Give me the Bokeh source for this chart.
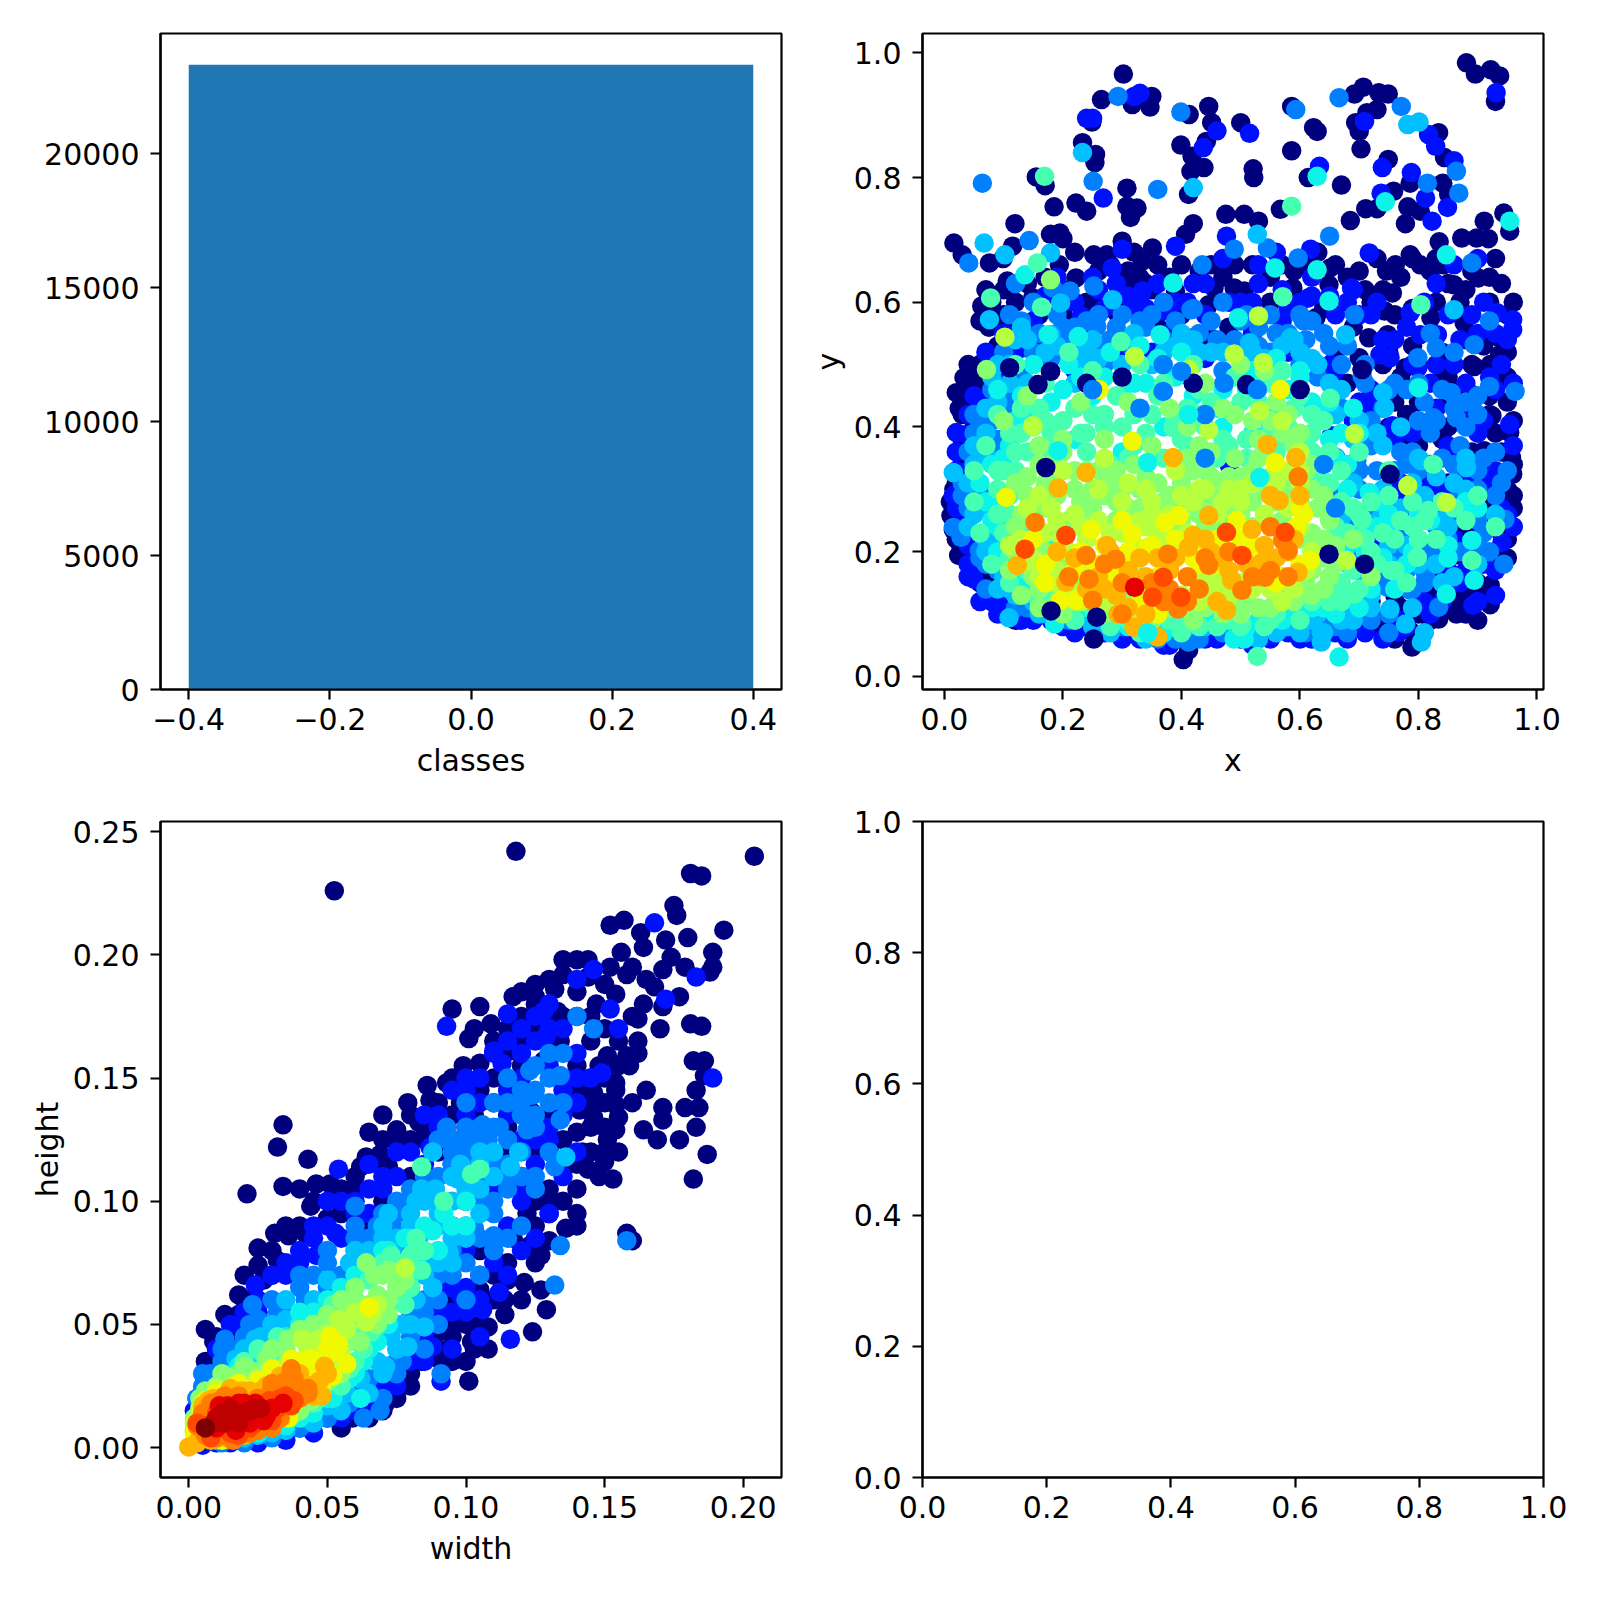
from bokeh.embed import file_html
from bokeh.layouts import gridplot
from bokeh.models import FixedTicker, Range1d
from bokeh.plotting import figure
from bokeh.resources import INLINE

bar_x = [0.0]
bar_width = [0.8]
bar_top = [23333]

ticks_bar_x = [-0.4, -0.2, 0.0, 0.2, 0.4]
labels_bar_x = ["\u22120.4", "\u22120.2", "0.0", "0.2", "0.4"]
ticks_bar_y = [0, 5000, 10000, 15000, 20000]
labels_bar_y = ["0", "5000", "10000", "15000", "20000"]
ticks_unit = [0.0, 0.2, 0.4, 0.6, 0.8, 1.0]
labels_unit = ["0.0", "0.2", "0.4", "0.6", "0.8", "1.0"]
ticks_w = [0.0, 0.05, 0.10, 0.15, 0.20]
labels_w = ["0.00", "0.05", "0.10", "0.15", "0.20"]
ticks_h = [0.0, 0.05, 0.10, 0.15, 0.20, 0.25]
labels_h = ["0.00", "0.05", "0.10", "0.15", "0.20", "0.25"]

NAVY = "#00007f"; BLUE = "#0010ff"; AZURE = "#0080ff"; SKY = "#00c0ff"; CYAN = "#0cf4ea"
SPRING = "#46ffb0"; LIME = "#86ff70"; YG = "#b8ff3e"; YELLOW = "#f0f900"; AMBER = "#ffb400"
ORANGE = "#ff7e00"; REDOR = "#ff4a00"; RED = "#e60000"; DRED = "#bf0000"; DARK = "#7f0000"

xy_navy = [(.016,.695),(.03,.676),(.076,.663),(.099,.67),(.119,.726),(.115,.69),(.179,.709),(.195,.711),(.2,.702),(.185,.753),(.222,.759),(.24,.746),(.155,.801),(.17,.787),(.255,.837),(.254,.824),(.233,.856),(.249,.889),(.265,.925),(.302,.966),(.317,.917),(.347,.913),(.35,.93),(.308,.783),(.308,.754),(.325,.751),(.314,.736),(.413,.901),(.446,.914),(.451,.888),(.442,.858),(.399,.852),(.418,.834),(.416,.81),(.438,.816),(.412,.773),(.5,.888),(.521,.814),(.522,.8),(.586,.914),(.586,.843),(.623,.88),(.629,.874),(.614,.8),(.67,.788),(.692,.934),(.707,.945),(.733,.936),(.749,.934),(.73,.909),(.713,.904),(.694,.888),(.7,.874),(.703,.846),(.749,.829),(.758,.778),(.786,.791),(.834,.872),(.844,.832),(.841,.791),(.851,.773),(.881,.984),(.896,.966),(.922,.973),(.937,.963),(.93,.922),(.475,.741),(.506,.741),(.53,.73),(.567,.749),(.42,.726),(.407,.709),(.685,.731),(.711,.75),(.73,.75),(.782,.753),(.778,.726),(.803,.746),(.944,.743),(.954,.714),(.918,.702),(.898,.703),(.873,.703),(.911,.73),(.835,.697),
(.921,.5),(.894,.497),(.877,.567),(.933,.545),(.748,.548),(.743,.586),(.756,.615),(.716,.543),(.7,.511),(.821,.575),(.86,.628),(.901,.639),(.627,.575),(.651,.655),(.649,.628),(.746,.65),(.761,.66),(.786,.676),(.803,.66),(.842,.66),(.308,.628),(.291,.583),(.334,.666),(.274,.676),(.252,.676),(.3,.698),(.351,.687),(.33,.639),(.106,.634),(.222,.639),(.194,.66),(.149,.607),(.063,.594),(.089,.564),(.14,.527),(.235,.532),(.317,.543),(.394,.532),(.42,.543),(.446,.545),(.446,.596),(.455,.623),(.489,.623),(.506,.618),(.588,.623),(.39,.618),(.705,.492),(.179,.489),(.033,.479),(.02,.455),(.11,.495),(.158,.468),(.51,.468),(.937,.516),(.89,.452),(.778,.495),
(.403,.027),(.097,.135),(.129,.122),(.412,.042),(.789,.047),(.73,.079),(.687,.079),(.834,.092),(.864,.1),(.921,.115),(.921,.146),(.844,.162),(.866,.195),(.91,.191),(.861,.234),(.918,.274),(.928,.292),(.959,.324),(.957,.351),(.884,.348),(.782,.378),(.804,.292),(.636,.42),(.896,.324),(.924,.418),(.954,.391),(.911,.362),(.016,.3),(.011,.258),(.028,.207),(.024,.194),(.825,.21),
(.035,.45),(.025,.43),(.03,.26),(.015,.235),(.04,.47),(.07,.62),(.075,.56),(.05,.4),(.09,.48),(.13,.46),(.2,.58),(.25,.6),(.36,.56),(.4,.58),(.48,.56),(.55,.6),(.6,.53),(.66,.52),(.68,.47),(.74,.5),(.76,.44),(.8,.44),(.85,.48),(.88,.54),(.92,.45),(.95,.44),(.96,.29),(.94,.23),(.95,.19),(.88,.13),(.9,.09),(.8,.1),(.76,.13),(.72,.12),(.82,.16),(.85,.4),(.87,.31),(.78,.25),(.06,.5),(.24,.47),(.3,.48),(.42,.47),(.6,.46),(.03,.34),(.03,.38),(.07,.16),(.12,.09)]
xy_navy2 = [(.28,.66),(.32,.68),(.36,.66),(.38,.64),(.43,.65),(.47,.64),(.52,.66),(.55,.64),(.59,.65),(.63,.68),(.68,.64),(.71,.62),(.74,.62),(.77,.64),(.82,.65),(.85,.63),(.88,.62),(.92,.64),(.94,.63),(.96,.6),(.12,.6),(.16,.58),(.2,.62),(.24,.6),(.29,.6),(.34,.63),(.75,.52),(.79,.53),(.84,.52),(.87,.46),(.91,.53),(.95,.52),(.96,.41),(.93,.39),(.89,.36),(.86,.34),(.84,.38),(.8,.37),(.78,.42),(.94,.36),(.95,.3),(.91,.28),(.88,.22),(.91,.25),(.95,.22),(.93,.2),(.9,.15),(.86,.14),(.83,.13),(.8,.13),(.77,.11),(.74,.09),(.7,.08),(.79,.07),(.84,.11),(.88,.1),(.01,.28),(.02,.31),(.02,.26),(.02,.22),(.04,.19),(.05,.17),(.06,.15),(.08,.14),(.1,.11),(.05,.44),(.07,.47),(.05,.48),(.03,.42),(.06,.57),(.08,.6),(.1,.58),(.12,.56),(.09,.53),(.13,.53)]
xy_navy3 = [(.22,.68),(.26,.65),(.31,.65),(.35,.62),(.4,.66),(.45,.66),(.49,.66),(.57,.66),(.61,.66),(.66,.66),(.7,.65),(.73,.67),(.79,.67),(.83,.67),(.89,.65),(.93,.67),(.95,.58),(.92,.6),(.87,.6),(.83,.6),(.79,.59),(.76,.58),(.72,.6),(.69,.56),(.64,.59),(.1,.62),(.14,.63),(.17,.64),(.04,.5),(.08,.58),(.8,.5),(.77,.48),(.84,.49),(.89,.5),(.95,.48),(.92,.42),(.88,.42),(.85,.44),(.81,.4),(.75,.4),(.96,.34),(.93,.27),(.89,.32),(.85,.31),(.82,.27),(.96,.27),(.9,.24),(.84,.16),(.87,.12),(.91,.13),(.82,.09),(.76,.06),(.72,.09)]
xy_blue = [(.33,.935),(.32,.93),(.25,.895),(.24,.895),(.46,.875),(.437,.848),(.515,.871),(.633,.818),(.739,.816),(.788,.808),(.737,.775),(.812,.767),(.849,.752),(.823,.73),(.817,.869),(.829,.85),(.86,.827),(.709,.89),(.268,.767),(.931,.936),(.717,.679),(.687,.623),(.786,.583),(.334,.618),(.3,.685),(.283,.655),(.476,.706),(.39,.69),(.618,.685),(.369,.586),(.317,.591),(.231,.578),(.614,.607),(.803,.548),(.832,.548),(.933,.583),(.959,.572),(.959,.556),(.735,.516),(.752,.511),(.651,.5),(.799,.495),(.472,.47),(.528,.46),(.369,.457),(.11,.452),(.02,.391),(.037,.388),(.05,.156),(.093,.114),(.015,.29),(.686,.095),(.767,.071),(.562,.092),(.892,.114),(.941,.215),(.877,.314),(.481,.338),(.653,.386),(.756,.402),(.954,.404),(.855,.367),(.7,.418),(.722,.375),
(.26,.62),(.34,.59),(.42,.63),(.47,.67),(.53,.66),(.56,.68),(.62,.64),(.66,.58),(.72,.58),(.83,.63),(.86,.66),(.9,.67),(.91,.6),(.86,.5),(.92,.48),(.96,.47),(.82,.47),(.72,.46),(.66,.45),(.05,.45),(.07,.52),(.1,.55),(.15,.57),(.18,.54),(.25,.56),(.3,.52),(.38,.55),(.44,.51),(.52,.55),(.57,.57),(.04,.21),(.06,.12),(.1,.1),(.18,.09),(.24,.08),(.3,.06),(.38,.05),(.44,.06),(.5,.06),(.58,.07),(.66,.07),(.74,.06),(.78,.08),(.84,.12),(.88,.17),(.93,.17),(.95,.26),(.93,.33),(.9,.39),(.82,.34),(.76,.28),(.73,.22),(.02,.33)]
xy_blue2 = [(.17,.61),(.22,.6),(.27,.59),(.31,.61),(.36,.63),(.41,.6),(.44,.63),(.5,.6),(.53,.63),(.58,.59),(.62,.61),(.68,.6),(.7,.58),(.74,.54),(.78,.56),(.81,.6),(.85,.58),(.89,.58),(.93,.55),(.94,.5),(.91,.41),(.88,.47),(.83,.43),(.79,.39),(.77,.31),(.84,.3),(.92,.31),(.96,.37),(.96,.24),(.93,.13),(.89,.16),(.85,.17),(.81,.12),(.77,.09),(.71,.07),(.62,.06),(.55,.06),(.41,.06),(.33,.06),(.22,.07),(.15,.09),(.08,.12),(.04,.16),(.03,.24),(.02,.36),(.04,.33),(.06,.4),(.08,.44),(.1,.47),(.12,.52),(.16,.53),(.22,.49),(.35,.52),(.5,.53),(.58,.52),(.66,.49),(.7,.44),(.69,.41),(.74,.44),(.8,.29),(.86,.22),(.9,.12)]
xy_blue3 = [(.19,.64),(.25,.64),(.29,.63),(.33,.6),(.39,.6),(.44,.58),(.48,.6),(.52,.6),(.57,.62),(.6,.6),(.65,.61),(.69,.62),(.73,.6),(.76,.54),(.79,.5),(.83,.5),(.87,.54),(.9,.55),(.95,.54),(.93,.46),(.89,.43),(.85,.37),(.82,.31),(.78,.29),(.76,.38),(.72,.43),(.94,.27),(.91,.18),(.87,.15),(.82,.1),(.68,.06),(.06,.44),(.04,.42),(.03,.27),(.02,.27),(.04,.18),(.09,.1),(.13,.09),(.2,.08),(.27,.07),(.37,.05),(.46,.06),(.52,.05),(.6,.06)]
xy_azure = [(.064,.791),(.041,.663),(.143,.699),(.293,.93),(.399,.905),(.593,.909),(.666,.928),(.771,.914),(.36,.781),(.251,.794),(.864,.81),(.815,.791),(.868,.775),(.435,.66),(.489,.685),(.545,.687),(.597,.671),(.65,.706),(.89,.663),(.692,.58),(.183,.623),(.212,.618),(.252,.626),(.416,.588),(.606,.57),(.799,.511),(.83,.527),(.894,.532),(.705,.481),(.4,.489),(.369,.5),(.855,.455),(.963,.457),(.92,.465),(.257,.561),(.084,.37),(.08,.234),(.944,.18),(.946,.252),(.834,.111),(.786,.138),(.812,.164),(.748,.143),(.864,.415),(.825,.415),(.661,.351),(.696,.346),(.565,.074),(.412,.055),(.028,.223),(.015,.239),(.059,.202),
(.13,.57),(.21,.54),(.28,.54),(.34,.56),(.46,.54),(.5,.57),(.56,.55),(.6,.5),(.63,.48),(.67,.43),(.72,.41),(.76,.47),(.8,.41),(.86,.43),(.88,.4),(.91,.35),(.93,.29),(.87,.26),(.8,.22),(.77,.19),(.73,.17),(.84,.2),(.9,.21),(.92,.2),(.75,.1),(.7,.1),(.64,.09),(.52,.07),(.47,.07),(.36,.06),(.27,.09),(.14,.11),(.07,.18),(.04,.27),(.04,.36),(.05,.42),(.08,.46),(.1,.52),(.27,.5),(.47,.49),(.55,.52),(.06,.3),(.78,.34),(.82,.39),(.73,.33),(.7,.3)]
xy_azure2 = [(.11,.58),(.16,.55),(.19,.58),(.24,.57),(.3,.58),(.33,.57),(.37,.6),(.42,.59),(.47,.6),(.51,.58),(.55,.58),(.6,.58),(.64,.55),(.67,.5),(.71,.5),(.74,.43),(.77,.36),(.81,.44),(.84,.46),(.87,.37),(.9,.33),(.94,.31),(.9,.45),(.86,.52),(.82,.55),(.92,.57),(.78,.46),(.8,.33),(.87,.2),(.83,.24),(.79,.14),(.75,.07),(.68,.07),(.61,.07),(.56,.09),(.43,.06),(.33,.08),(.23,.1),(.17,.1),(.12,.11),(.07,.14),(.03,.29),(.03,.31),(.06,.38),(.07,.41),(.09,.38),(.11,.43),(.13,.48),(.18,.51),(.22,.56),(.26,.52),(.32,.52),(.37,.54),(.43,.55),(.49,.54),(.53,.53),(.61,.54),(.7,.33),(.68,.25),(.66,.29),(.7,.2),(.74,.15),(.77,.23),(.8,.27),(.86,.34),(.91,.23)]
xy_azure3 = [(.12,.63),(.15,.6),(.2,.56),(.26,.58),(.29,.56),(.35,.58),(.39,.57),(.45,.57),(.53,.56),(.58,.55),(.62,.57),(.65,.53),(.68,.53),(.71,.47),(.75,.46),(.8,.47),(.83,.41),(.88,.44),(.9,.42),(.93,.36),(.9,.3),(.87,.29),(.84,.35),(.79,.36),(.76,.33),(.72,.37),(.72,.26),(.78,.17),(.82,.2),(.85,.22),(.9,.25),(.95,.33),(.81,.15),(.72,.09),(.66,.08),(.59,.09),(.5,.07),(.39,.06),(.3,.08),(.21,.09),(.13,.12),(.09,.17),(.06,.19),(.04,.3),(.05,.39),(.08,.41),(.1,.45),(.15,.52),(.19,.55)]
xy_sky = [(.233,.84),(.067,.695),(.102,.676),(.179,.679),(.782,.885),(.801,.889),(.42,.784),(.528,.709),(.86,.588),(.677,.548),(.74,.455),(.584,.543),(.284,.604),(.196,.599),(.076,.572),(.179,.548),(.515,.535),(.109,.094),(.636,.055),(.636,.071),(.778,.084),(.805,.055),(.649,.119),(.015,.327),(.653,.26),(.67,.255),(.752,.239),(.735,.252),(.752,.108),(.881,.335),(.743,.431),(.804,.346),
(.12,.54),(.24,.53),(.32,.55),(.4,.55),(.45,.52),(.54,.51),(.6,.52),(.63,.5),(.66,.42),(.69,.38),(.74,.37),(.79,.31),(.83,.32),(.88,.3),(.93,.26),(.85,.24),(.8,.18),(.77,.16),(.72,.11),(.68,.11),(.63,.1),(.58,.08),(.44,.08),(.3,.09),(.2,.11),(.1,.16),(.07,.22),(.05,.26),(.06,.35),(.07,.43),(.09,.5)]
xy_sky2 = [(.14,.54),(.17,.52),(.23,.51),(.3,.5),(.35,.5),(.39,.53),(.43,.52),(.5,.51),(.57,.53),(.65,.47),(.69,.31),(.74,.3),(.77,.27),(.81,.29),(.85,.27),(.88,.35),(.75,.18),(.72,.13),(.71,.24),(.83,.18),(.86,.16),(.9,.18),(.84,.15),(.81,.07),(.69,.09),(.62,.09),(.67,.09),(.6,.07),(.53,.06),(.49,.07),(.41,.08),(.28,.07),(.24,.1),(.16,.1),(.12,.13),(.09,.14),(.07,.2),(.04,.24),(.04,.31),(.05,.37),(.07,.39),(.09,.44),(.11,.47),(.14,.47),(.22,.47),(.26,.51)]
xy_sky3 = [(.13,.56),(.19,.53),(.25,.54),(.31,.54),(.37,.52),(.42,.54),(.47,.52),(.52,.52),(.59,.54),(.62,.51),(.67,.46),(.7,.41),(.73,.39),(.77,.4),(.8,.35),(.86,.31),(.89,.28),(.84,.25),(.78,.21),(.75,.21),(.71,.16),(.79,.11),(.68,.13),(.64,.07),(.56,.07),(.34,.06),(.25,.08),(.15,.12),(.11,.14),(.08,.22),(.06,.27),(.05,.34),(.07,.36),(.08,.48),(.11,.5)]
xy_cyan = [(.136,.644),(.629,.652),(.649,.602),(.558,.655),(.386,.631),(.744,.761),(.847,.676),(.629,.802),(.226,.545),(.175,.548),(.364,.548),(.496,.575),(.8,.463),(.954,.73),(.186,.084),(.425,.084),(.347,.068),(.489,.06),(.506,.06),(.666,.031),(.894,.154),(.179,.204),(.717,.295),(.89,.218),(.847,.132),
(.09,.46),(.11,.37),(.06,.31),(.08,.25),(.09,.2),(.12,.16),(.2,.12),(.26,.1),(.39,.08),(.43,.1),(.53,.09),(.6,.11),(.65,.14),(.68,.18),(.7,.23),(.75,.26),(.79,.2),(.85,.19),(.9,.27),(.68,.34),(.65,.38),(.62,.44),(.6,.49),(.52,.49),(.4,.52),(.33,.53),(.28,.52),(.21,.5),(.15,.5)]
xy_cyan2 = [(.1,.24),(.1,.28),(.08,.34),(.12,.41),(.15,.42),(.2,.46),(.25,.45),(.27,.48),(.32,.47),(.36,.51),(.42,.45),(.47,.46),(.56,.51),(.6,.48),(.65,.44),(.69,.43),(.66,.35),(.68,.3),(.73,.24),(.71,.2),(.74,.19),(.76,.14),(.7,.11),(.66,.1),(.62,.11),(.57,.09),(.51,.08),(.47,.1),(.37,.07),(.31,.08),(.24,.11),(.18,.11),(.14,.14),(.1,.19),(.22,.38),(.3,.36),(.37,.4),(.47,.4),(.53,.47),(.58,.46)]
xy_cyan3 = [(.13,.45),(.18,.44),(.23,.48),(.3,.45),(.34,.47),(.39,.48),(.46,.43),(.51,.46),(.56,.42),(.55,.4),(.52,.39),(.63,.43),(.67,.39),(.7,.39),(.73,.28),(.75,.24),(.78,.18),(.68,.21),(.72,.14),(.64,.11),(.58,.1),(.45,.09),(.41,.1),(.35,.08),(.27,.11),(.22,.1),(.13,.15),(.09,.24),(.07,.28),(.1,.35),(.88,.28),(.85,.21),(.82,.25),(.8,.26)]
xy_spring = [(.169,.802),(.586,.754),(.157,.663),(.078,.607),(.164,.592),(.298,.537),(.804,.596),(.651,.446),(.571,.609),(.528,.032),(.502,.084),(.692,.132),(.754,.17),(.798,.191),(.817,.266),(.89,.186),(.705,.252),(.705,.223),(.334,.159),(.825,.34),(.661,.231),(.239,.39),(.386,.399),(.311,.351),(.422,.353),
(.12,.5),(.17,.47),(.21,.52),(.25,.49),(.29,.45),(.33,.5),(.37,.47),(.42,.5),(.45,.44),(.49,.48),(.53,.44),(.57,.49),(.6,.45),(.64,.41),(.09,.42),(.13,.39),(.07,.37),(.05,.33),(.09,.3),(.12,.33),(.16,.43),(.2,.41),(.25,.42),(.3,.4),(.35,.42),(.4,.38),(.44,.4),(.48,.37),(.54,.37),(.58,.4),(.62,.36),(.65,.31),(.67,.28),(.66,.2),(.69,.17),(.72,.2),(.72,.28),(.76,.22),(.78,.15),(.81,.25),(.84,.28),(.88,.25),(.9,.29),(.93,.24),(.75,.33),(.7,.36),(.05,.28),(.06,.23),(.08,.18),(.11,.15),(.16,.12),(.22,.09),(.28,.08),(.33,.07),(.4,.07),(.46,.08),(.54,.08),(.6,.09),(.63,.13),(.67,.12),(.7,.14)]
xy_spring2 = [(.11,.29),(.1,.33),(.11,.39),(.14,.36),(.18,.39),(.22,.43),(.27,.42),(.32,.42),(.36,.45),(.41,.43),(.43,.46),(.5,.44),(.55,.47),(.59,.43),(.62,.39),(.63,.32),(.66,.24),(.69,.27),(.74,.23),(.75,.29),(.79,.24),(.83,.22),(.86,.27),(.79,.28),(.7,.26),(.67,.15),(.65,.12),(.6,.13),(.55,.09),(.5,.08),(.43,.08),(.38,.09),(.33,.09),(.29,.1),(.24,.12),(.19,.13),(.14,.17),(.12,.18),(.1,.23),(.14,.23),(.18,.36),(.24,.36),(.28,.34),(.32,.37),(.37,.35),(.41,.37),(.46,.35),(.51,.35),(.56,.36),(.6,.34)]
xy_spring3 = [(.13,.43),(.17,.41),(.23,.39),(.27,.4),(.34,.39),(.39,.41),(.43,.42),(.47,.38),(.51,.38),(.55,.39),(.57,.38),(.62,.42),(.61,.38),(.65,.36),(.67,.33),(.68,.23),(.71,.22),(.73,.18),(.76,.17),(.66,.14),(.62,.12),(.56,.1),(.48,.09),(.4,.09),(.31,.09),(.25,.11),(.21,.11),(.16,.13),(.11,.19),(.09,.26),(.11,.26),(.09,.33),(.12,.36),(.77,.25),(.8,.22)]
xy_lime = [(.071,.492),(.179,.636),(.1,.41),(.14,.45),(.16,.37),(.2,.36),(.23,.44),(.27,.38),(.31,.44),(.35,.37),(.38,.43),(.43,.37),(.47,.43),(.52,.41),(.56,.44),(.59,.37),(.61,.33),(.14,.32),(.18,.32),(.22,.3),(.26,.33),(.3,.3),(.34,.32),(.38,.29),(.42,.33),(.46,.3),(.5,.32),(.54,.3),(.58,.3),(.63,.27),(.64,.22),(.13,.26),(.17,.27),(.21,.25),(.25,.27),(.29,.25),(.33,.27),(.38,.24),(.43,.26),(.46,.24),(.5,.26),(.57,.25),(.62,.17),(.65,.16),(.12,.2),(.16,.21),(.2,.18),(.25,.13),(.3,.12),(.35,.09),(.42,.09),(.46,.12),(.5,.1),(.55,.11),(.59,.12),(.62,.13),(.16,.14),(.2,.1),(.27,.1),(.11,.17),(.13,.13),(.69,.22),(.72,.16),(.44,.47),(.5,.5),(.54,.49),(.3,.48),(.26,.46)]
xy_lime2 = [(.14,.29),(.12,.31),(.16,.34),(.19,.29),(.2,.38),(.24,.33),(.28,.31),(.32,.34),(.36,.31),(.4,.31),(.44,.33),(.48,.32),(.52,.33),(.56,.33),(.6,.28),(.62,.23),(.62,.3),(.56,.28),(.52,.28),(.48,.26),(.44,.28),(.4,.27),(.36,.26),(.31,.27),(.27,.29),(.23,.28),(.19,.23),(.15,.25),(.14,.2),(.18,.15),(.22,.16),(.26,.15),(.3,.14),(.34,.12),(.38,.11),(.44,.11),(.48,.12),(.53,.11),(.58,.14),(.61,.15),(.64,.19),(.66,.18),(.17,.2),(.22,.12),(.28,.13),(.16,.11),(.41,.4),(.45,.36),(.49,.42),(.53,.35),(.58,.42)]
xy_lime3 = [(.15,.4),(.18,.34),(.22,.33),(.25,.3),(.29,.33),(.33,.3),(.37,.28),(.41,.35),(.45,.32),(.49,.35),(.53,.38),(.55,.41),(.57,.39),(.6,.39),(.62,.34),(.64,.29),(.65,.25),(.66,.21),(.64,.14),(.6,.16),(.56,.12),(.51,.12),(.47,.1),(.41,.11),(.36,.11),(.31,.13),(.27,.16),(.23,.18),(.19,.12),(.15,.16),(.12,.24),(.15,.28),(.17,.31),(.24,.25),(.29,.28),(.35,.24),(.4,.25),(.44,.24),(.52,.24),(.6,.22)]
xy_yg = [(.102,.544),(.53,.578),(.321,.513),(.489,.517),(.538,.503),(.413,.492),(.532,.426),(.782,.306),(.692,.389),(.446,.395),(.149,.402),(.847,.279),(.679,.186),(.152,.183),(.2,.33),(.27,.35),(.31,.31),(.35,.28),(.39,.33),(.43,.3),(.47,.28),(.5,.3),(.55,.32),(.6,.31),(.24,.22),(.29,.19),(.34,.24),(.38,.2),(.42,.16),(.47,.15),(.52,.14),(.57,.12),(.62,.2),(.21,.14),(.25,.17),(.11,.21),(.16,.16),(.27,.12),(.32,.1),(.57,.41),(.6,.36)]
xy_yg2 = [(.18,.27),(.16,.29),(.22,.26),(.26,.3),(.3,.28),(.34,.3),(.38,.26),(.42,.28),(.46,.26),(.5,.28),(.54,.26),(.58,.27),(.6,.24),(.61,.17),(.57,.16),(.52,.17),(.48,.13),(.43,.12),(.37,.13),(.33,.14),(.28,.16),(.24,.14),(.19,.17),(.15,.19),(.13,.22),(.2,.22),(.28,.23),(.32,.21),(.36,.22),(.41,.23),(.45,.16),(.5,.15),(.55,.14),(.23,.12),(.3,.11)]
xy_yg3 = [(.19,.25),(.23,.24),(.26,.25),(.3,.23),(.33,.25),(.37,.24),(.4,.29),(.44,.3),(.48,.3),(.52,.31),(.56,.31),(.58,.33),(.6,.33),(.17,.23),(.21,.2),(.35,.26),(.55,.16),(.59,.14),(.45,.14),(.4,.13),(.34,.13),(.13,.18),(.19,.15),(.14,.27)]
xy_yellow = [(.261,.46),(.567,.46),(.104,.287),(.317,.377),(.558,.343),(.248,.235),(.317,.228),(.373,.247),(.463,.18),(.443,.212),(.606,.26),(.593,.239),(.493,.25),(.396,.258),(.317,.162),(.571,.159),(.343,.207),(.196,.122),(.222,.122),(.618,.186),(.3,.25),(.42,.19),(.5,.22),(.26,.18),(.23,.2)]
xy_yellow2 = [(.15,.22),(.17,.18),(.19,.2),(.22,.17),(.24,.19),(.27,.21),(.29,.16),(.31,.2),(.35,.21),(.36,.16),(.39,.22),(.43,.18),(.46,.22),(.48,.2),(.52,.21),(.55,.19),(.57,.22),(.6,.18),(.56,.15),(.52,.18),(.33,.12),(.24,.13),(.17,.15),(.36,.1),(.6,.27)]
xy_amber = [(.192,.302),(.239,.327),(.386,.351),(.593,.351),(.545,.372),(.565,.282),(.446,.258),(.519,.236),(.42,.226),(.274,.21),(.205,.151),(.123,.178),(.485,.154),(.536,.183),(.597,.167),(.476,.106),(.32,.079),(.36,.063),(.293,.1),(.412,.207),(.38,.17),(.45,.2),(.54,.21),(.27,.14),(.33,.19),(.48,.17),(.58,.2)]
xy_amber2 = [(.19,.2),(.22,.19),(.26,.16),(.28,.2),(.31,.17),(.34,.16),(.36,.19),(.39,.19),(.44,.22),(.47,.19),(.51,.18),(.53,.16),(.56,.19),(.59,.22),(.31,.11),(.34,.1),(.38,.12),(.46,.12),(.24,.14),(.29,.13),(.55,.29),(.6,.29)]
xy_orange = [(.153,.247),(.597,.32),(.571,.218),(.58,.202),(.289,.188),(.244,.156),(.25,.122),(.369,.132),(.394,.108),(.541,.159),(.502,.138),(.446,.178),(.239,.194),(.377,.196),(.43,.14),(.41,.12)]
xy_orange2 = [(.21,.16),(.27,.18),(.3,.15),(.35,.15),(.38,.14),(.37,.12),(.41,.16),(.44,.19),(.48,.2),(.52,.16),(.55,.17),(.58,.16),(.55,.24),(.3,.1)]
xy_redor = [(.136,.204),(.205,.226),(.351,.127),(.399,.127),(.502,.194),(.575,.231),(.369,.159),(.476,.231)]
xy_red = [(.321,.143)]
xy_over_navy = [(.171,.335),(.649,.196),(.709,.18),(.752,.324),(.252,.06),(.18,.105),(.257,.095),(.179,.489),(.11,.495),(.51,.468),(.705,.492),(.158,.468),(.24,.47),(.42,.47),(.6,.46),(.3,.48)]
xy_over_azure = [(.44,.35),(.64,.34),(.66,.27),(.472,.47),(.528,.46),(.369,.457),(.4,.489),(.369,.5),(.44,.42),(.33,.43),(.25,.46)]
xy_over_cyan = [(.532,.319),(.343,.343),(.192,.362),(.412,.42),(.343,.07)]

wh_navy = [(.0525,.226),(.118,.242),(.204,.24),(.181,.233),(.185,.232),(.175,.22),(.157,.214),(.152,.212),(.193,.21),(.176,.216),(.163,.209),(.18,.207),(.156,.201),(.189,.201),(.189,.195),(.188,.193),(.135,.198),(.14,.198),(.144,.198),(.152,.195),(.158,.192),(.125,.188),(.135,.192),(.144,.191),(.154,.184),(.117,.183),(.125,.183),(.132,.186),(.147,.18),(.164,.18),(.171,.179),(.177,.183),(.168,.187),(.171,.194),(.174,.199),(.179,.195),(.172,.206),(.164,.203),(.095,.178),(.105,.179),(.133,.177),(.121,.174),(.109,.172),(.103,.17),(.101,.166),(.162,.174),(.162,.165),(.162,.16),(.181,.172),(.185,.171),(.12,.166),(.134,.165),(.116,.161),(.151,.159),(.158,.159),(.159,.155),(.182,.157),(.186,.157),(.186,.151),(.099,.155),(.105,.156),(.128,.157),(.093,.148),(.086,.147),(.101,.147),(.145,.15),(.154,.148),(.154,.145),(.146,.144),(.165,.145),(.183,.145),(.079,.14),(.087,.141),(.098,.14),(.154,.139),(.171,.138),(.179,.138),(.184,.138),(.07,.135),(.103,.135),(.083,.132),(.141,.137),(.146,.134),(.155,.134),(.171,.133),(.183,.13),(.034,.131),(.032,.122),(.065,.128),(.075,.129),(.164,.129),(.169,.125),(.154,.129),(.151,.125),(.177,.125),(.074,.125),(.079,.124),(.043,.117),(.187,.119),(.182,.109),(.064,.118),(.069,.119),(.062,.114),(.15,.116),(.144,.113),(.153,.109),(.072,.114),(.021,.103),(.034,.106),(.046,.107),(.051,.107),(.135,.113),(.14,.128),(.142,.12),(.107,.105),(.105,.125),(.13,.121),(.124,.136),(.116,.141),
(.044,.098),(.05,.093),(.062,.09),(.031,.087),(.036,.086),(.042,.087),(.025,.081),(.032,.076),(.025,.074),(.027,.068),(.018,.062),(.013,.054),(.018,.054),(.006,.048),(.009,.043),(.01,.04),(.006,.035),(.158,.087),(.16,.084),(.122,.095),(.13,.095),(.14,.095),(.136,.089),(.13,.084),(.117,.085),(.123,.082),(.127,.078),(.121,.067),(.127,.064),(.129,.056),(.124,.047),(.101,.027),(.103,.04),(.102,.043),(.114,.054),(.114,.06),(.108,.049),(.095,.045),(.09,.047),(.094,.058),(.105,.064),(.115,.068),(.09,.036),(.084,.035),(.076,.025),(.071,.018),(.059,.012),
(.055,.095),(.07,.1),(.08,.11),(.09,.12),(.08,.135),(.09,.14),(.1,.13),(.11,.14),(.12,.155),(.13,.135),(.14,.145),(.145,.12),(.125,.1),(.1,.1),(.115,.12),(.11,.11),(.13,.105),(.14,.105),(.15,.13),(.135,.175),(.145,.165),(.15,.17),(.12,.185),(.13,.19),(.095,.09),(.1,.06),(.1,.05),(.085,.05),(.09,.04),(.08,.03),(.07,.022),(.105,.08),(.11,.07)]
wh_navy2 = [(.02,.07),(.03,.08),(.04,.09),(.045,.1),(.055,.105),(.06,.11),(.07,.125),(.08,.125),(.085,.13),(.095,.135),(.105,.145),(.11,.15),(.115,.17),(.12,.175),(.125,.17),(.13,.165),(.14,.155),(.145,.14),(.14,.115),(.135,.1),(.125,.09),(.115,.075),(.11,.06),(.105,.05),(.095,.05),(.085,.04),(.08,.025),(.07,.015),(.065,.012),(.055,.008),(.15,.15),(.148,.155),(.155,.165),(.165,.19),(.16,.195),(.15,.188),(.14,.185),(.16,.175),(.17,.17),(.155,.12),(.16,.14)]
wh_navy3 = [(.095,.15),(.11,.165),(.125,.18),(.13,.175),(.14,.175),(.145,.175),(.155,.155),(.15,.14),(.15,.12),(.148,.11),(.14,.09),(.125,.075),(.12,.06),(.108,.04),(.1,.035),(.095,.035),(.075,.02),(.065,.02),(.08,.05),(.06,.105),(.07,.115),(.085,.125),(.1,.14),(.035,.09),(.04,.105),(.03,.07),(.02,.06),(.015,.045),(.01,.045),(.095,.125),(.105,.12),(.12,.11),(.13,.1),(.135,.125),(.145,.13),(.125,.12),(.115,.13)]
wh_blue = [(.093,.171),(.168,.213),(.115,.176),(.183,.191),(.172,.182),(.155,.17),(.129,.167),(.11,.161),(.189,.15),(.054,.113),(.149,.152),(.087,.122),(.095,.123),(.14,.19),(.146,.194),(.152,.178),(.128,.177),(.113,.156),(.116,.044),(.091,.027),(.106,.056),(.112,.063),(.098,.062),(.092,.065),(.046,.078),(.024,.066),(.053,.087),(.088,.041),
(.03,.07),(.04,.08),(.05,.09),(.06,.1),(.07,.11),(.08,.12),(.09,.13),(.1,.15),(.11,.16),(.12,.17),(.13,.18),(.14,.16),(.135,.135),(.125,.115),(.12,.1),(.11,.08),(.105,.07),(.1,.055),(.09,.05),(.08,.04),(.07,.03),(.06,.02),(.05,.012),(.04,.008),(.03,.005),(.02,.003),(.01,.002),(.005,.012),(.002,.015),(.01,.04),(.015,.05),(.02,.055),(.045,.09),(.05,.1),(.065,.105),(.075,.08)]
wh_blue2 = [(.015,.04),(.02,.05),(.025,.06),(.035,.07),(.04,.075),(.045,.085),(.055,.085),(.06,.095),(.065,.095),(.07,.105),(.075,.11),(.085,.115),(.09,.125),(.095,.145),(.1,.145),(.105,.15),(.115,.165),(.12,.16),(.125,.175),(.13,.17),(.135,.17),(.14,.15),(.145,.15),(.13,.125),(.125,.125),(.12,.105),(.115,.09),(.11,.075),(.105,.06),(.1,.065),(.095,.055),(.085,.045),(.08,.035),(.075,.025),(.065,.015),(.055,.012),(.045,.006),(.035,.003),(.025,.002),(.015,.002),(.005,.001),(.003,.02),(.007,.03)]
wh_blue3 = [(.055,.1),(.065,.115),(.075,.12),(.085,.135),(.09,.135),(.1,.135),(.105,.14),(.115,.145),(.12,.15),(.13,.13),(.14,.14),(.135,.15),(.14,.12),(.135,.11),(.13,.095),(.125,.085),(.12,.08),(.115,.07),(.105,.045),(.095,.04),(.09,.055),(.085,.035),(.07,.025),(.06,.015),(.035,.075),(.025,.055),(.01,.03),(.115,.135),(.125,.165),(.13,.155),(.135,.145),(.12,.125),(.11,.105),(.1,.08),(.095,.065)]
wh_azure = [(.132,.066),(.063,.012),(.069,.015),(.072,.033),(.077,.035),(.091,.03),(.134,.082),(.11,.086),(.103,.089),(.074,.089),(.06,.098),(.023,.058),(.005,.03),(.013,.044),(.158,.084),(.14,.175),(.146,.17),(.123,.153),(.134,.151),(.124,.143),(.106,.131),(.112,.13),(.093,.13),(.122,.129),(.134,.133),(.095,.115),(.109,.12),(.125,.11),(.132,.114),
(.01,.025),(.012,.035),(.02,.045),(.025,.052),(.03,.06),(.04,.065),(.045,.07),(.05,.075),(.06,.08),(.065,.085),(.07,.095),(.08,.1),(.09,.11),(.1,.12),(.11,.13),(.12,.14),(.13,.15),(.135,.16),(.125,.13),(.115,.115),(.105,.1),(.1,.09),(.095,.08),(.09,.07),(.085,.06),(.08,.055),(.12,.11),(.13,.12),(.11,.1),(.135,.14),(.115,.15),(.1,.14),(.09,.125)]
wh_azure2 = [(.008,.03),(.018,.04),(.028,.05),(.035,.055),(.042,.06),(.05,.065),(.055,.07),(.06,.085),(.068,.09),(.075,.095),(.085,.105),(.095,.115),(.1,.125),(.105,.13),(.115,.125),(.12,.135),(.125,.145),(.13,.14),(.13,.16),(.125,.155),(.12,.12),(.115,.105),(.11,.095),(.105,.085),(.1,.075),(.095,.07),(.09,.06),(.085,.055),(.08,.045),(.075,.035),(.065,.028),(.06,.024),(.058,.018),(.05,.012),(.04,.008),(.03,.004),(.02,.002),(.012,.002),(.095,.12),(.105,.107),(.11,.115),(.108,.125),(.09,.1)]
wh_azure3 = [(.06,.09),(.075,.1),(.08,.105),(.085,.11),(.095,.125),(.1,.13),(.11,.14),(.115,.14),(.12,.145),(.125,.135),(.125,.105),(.12,.09),(.115,.085),(.11,.08),(.105,.07),(.1,.06),(.09,.05),(.085,.04),(.075,.03),(.07,.02),(.05,.08),(.04,.07),(.032,.055),(.022,.05),(.012,.04),(.005,.025),(.003,.02),(.105,.125),(.115,.11),(.1,.115)]
wh_sky = [(.084,.105),(.089,.105),(.097,.109),(.116,.114),(.119,.12),(.136,.118),(.094,.079),(.088,.079),(.074,.082),(.037,.049),(.024,.044),(.071,.033),(.065,.037),(.079,.041),(.085,.049),
(.015,.03),(.02,.04),(.03,.05),(.035,.06),(.045,.06),(.05,.068),(.058,.075),(.065,.08),(.07,.09),(.08,.09),(.085,.1),(.095,.1),(.1,.11),(.11,.12),(.1,.105),(.09,.09),(.085,.075),(.08,.065),(.08,.05),(.075,.04),(.07,.03),(.065,.022),(.055,.015),(.045,.01),(.035,.007),(.025,.005),(.088,.12),(.105,.115)]
wh_sky2 = [(.012,.03),(.022,.035),(.028,.045),(.04,.055),(.05,.06),(.06,.075),(.07,.085),(.075,.085),(.08,.095),(.09,.095),(.1,.1),(.105,.105),(.11,.11),(.105,.095),(.1,.085),(.095,.085),(.088,.065),(.082,.06),(.077,.05),(.073,.045),(.068,.035),(.062,.028),(.057,.022),(.05,.017),(.042,.012),(.03,.006),(.02,.004),(.01,.003)]
wh_sky3 = [(.06,.08),(.072,.095),(.082,.1),(.095,.11),(.105,.12),(.098,.115),(.09,.1),(.083,.085),(.075,.07),(.085,.07),(.09,.075),(.095,.075),(.08,.06),(.075,.05),(.035,.052),(.026,.045),(.017,.036)]
wh_cyan = [(.03,.04),(.04,.05),(.045,.055),(.055,.065),(.06,.07),(.07,.08),(.08,.085),(.085,.09),(.092,.095),(.1,.09),(.082,.075),(.075,.06),(.07,.05),(.065,.04),(.06,.03),(.05,.02),(.04,.012),(.03,.008),(.02,.006),(.062,.02),(.1,.1)]
wh_cyan2 = [(.018,.033),(.027,.037),(.035,.045),(.04,.055),(.05,.06),(.062,.07),(.072,.08),(.078,.085),(.088,.088),(.095,.09),(.09,.08),(.08,.07),(.072,.05),(.068,.043),(.063,.035),(.058,.028),(.052,.02),(.045,.014),(.035,.009),(.025,.006)]
wh_spring = [(.084,.114),(.102,.111),(.105,.113),(.092,.1),(.082,.085),(.058,.06),(.065,.068),(.07,.075),(.075,.07),(.08,.078),(.085,.08),(.06,.05),(.07,.055),(.078,.058),(.055,.04),(.06,.035),(.055,.025),(.045,.018),(.035,.012),(.025,.008),(.015,.006),(.05,.05),(.04,.045),(.03,.035),(.02,.035),(.025,.04),(.08,.065)]
wh_spring2 = [(.032,.045),(.045,.05),(.052,.058),(.06,.06),(.067,.072),(.073,.078),(.084,.072),(.07,.06),(.066,.047),(.063,.04),(.058,.032),(.052,.027),(.047,.02),(.04,.015),(.03,.01),(.02,.007),(.01,.004),(.075,.075),(.082,.08),(.035,.04)]
wh_lime = [(.012,.03),(.006,.023),(.02,.033),(.03,.04),(.04,.048),(.05,.054),(.055,.06),(.06,.065),(.064,.075),(.07,.07),(.075,.065),(.072,.06),(.065,.058),(.062,.043),(.068,.05),(.05,.035),(.055,.03),(.048,.022),(.04,.015),(.03,.012),(.02,.01),(.01,.008),(.06,.052),(.043,.04),(.036,.044),(.023,.031),(.058,.056),(.005,.006)]
wh_lime2 = [(.045,.05),(.052,.05),(.06,.058),(.067,.07),(.072,.072),(.078,.068),(.068,.062),(.062,.058),(.058,.043),(.055,.036),(.05,.027),(.044,.019),(.038,.014),(.026,.009),(.016,.006),(.008,.005),(.035,.04),(.028,.036),(.018,.03),(.01,.025),(.004,.02),(.002,.012),(.002,.007),(.072,.054)]
wh_yg = [(.078,.073),(.05,.046),(.057,.048),(.064,.051),(.049,.041),(.045,.04),(.055,.038),(.041,.044),(.052,.032),(.045,.028),(.04,.02),(.033,.015),(.025,.012),(.015,.008),(.007,.005),(.003,.004),(.002,.01),(.005,.018),(.042,.036),(.03,.032)]
wh_yg2 = [(.047,.044),(.054,.052),(.06,.055),(.066,.054),(.068,.058),(.043,.038),(.048,.035),(.05,.03),(.053,.036),(.035,.033),(.025,.028),(.016,.025),(.01,.024),(.004,.016),(.047,.024),(.038,.018),(.03,.014),(.02,.009)]
wh_yellow = [(.065,.057),(.053,.039),(.057,.034),(.051,.045),(.037,.036),(.03,.032),(.042,.031),(.052,.029),(.012,.006),(.02,.008),(.028,.01),(.036,.012),(.004,.012),(.002,.006),(.006,.019),(.048,.026),(.044,.036)]
wh_yellow2 = [(.04,.035),(.045,.033),(.054,.042),(.05,.04),(.035,.03),(.025,.027),(.018,.026),(.01,.022),(.046,.03),(.043,.025),(.012,.003)]
wh_amber = [(.049,.033),(.045,.021),(.026,.023),(.019,.023),(.044,.025),(.04,.027),(.037,.025),(.03,.022),(.0,.0003),(.003,.002),(.014,.004),(.02,.005),(.005,.017),(.05,.03),(.048,.021),(.033,.029)]
wh_amber2 = [(.035,.027),(.028,.025),(.022,.023),(.015,.024),(.009,.02),(.007,.019),(.047,.027),(.04,.03),(.042,.025),(.038,.022),(.02,.006),(.008,.003),(.028,.009),(.004,.004)]
wh_orange = [(.037,.03),(.037,.032),(.013,.021),(.005,.014),(.03,.026),(.015,.018),(.02,.016),(.04,.02),(.034,.024),(.028,.02),(.003,.009),(.01,.004),(.043,.022),(.006,.005),(.025,.007)]
wh_orange2 = [(.038,.028),(.035,.027),(.03,.024),(.025,.02),(.018,.021),(.011,.019),(.008,.018),(.005,.011),(.043,.024),(.04,.023),(.033,.012),(.012,.005),(.022,.006),(.03,.008),(.016,.003)]
wh_redor = [(.037,.017),(.033,.02),(.031,.015),(.003,.01),(.008,.004),(.022,.008),(.03,.011),(.015,.006),(.018,.005),(.035,.021),(.029,.019),(.025,.017),(.016,.016),(.01,.014),(.005,.009),(.032,.016),(.038,.019),(.028,.011),(.024,.01),(.014,.007),(.008,.006)]
wh_red = [(.011,.017),(.024,.016),(.026,.014),(.018,.018),(.014,.014),(.022,.01),(.017,.007),(.01,.008),(.028,.013),(.014,.017),(.02,.018),(.024,.018),(.03,.016),(.034,.018),(.01,.012),(.016,.011),(.021,.012),(.027,.011),(.012,.012)]
wh_dred = [(.012,.014),(.018,.013),(.024,.016),(.013,.01),(.02,.014),(.009,.01),(.015,.016),(.022,.015),(.026,.016),(.01,.012),(.015,.011),(.018,.01)]
wh_dark = [(.006,.008)]

FONT = "DejaVu Sans"
FS = "30px"
LW = 2.2


def make(xr, yr, xt, xl, yt, yl, bl, br, bt, bb, xlabel=None, ylabel=None):
    w = bl + br + FRAME_W
    h = bt + bb + FRAME_H
    p = figure(width=w, height=h, x_range=Range1d(*xr), y_range=Range1d(*yr),
               output_backend="svg", toolbar_location=None, tools="",
               min_border_left=bl, min_border_right=br, min_border_top=bt, min_border_bottom=bb)
    p.grid.visible = False
    p.outline_line_color = "black"
    p.outline_line_width = LW
    p.background_fill_color = "white"
    for ax, ticks, labels, lab, stand, lstand in ((p.xaxis[0], xt, xl, xlabel, 8, 10), (p.yaxis[0], yt, yl, ylabel, 11, 5)):
        ax.ticker = FixedTicker(ticks=ticks)
        ax.major_label_overrides = dict(zip(ticks, labels))
        ax.major_label_text_font = FONT
        ax.major_label_text_font_size = FS
        ax.major_label_text_color = "black"
        ax.major_tick_out = 10
        ax.major_tick_in = 0
        ax.minor_tick_out = 0
        ax.minor_tick_in = 0
        ax.major_tick_line_width = LW
        ax.major_tick_line_color = "black"
        ax.axis_line_color = "black"
        ax.axis_line_width = LW
        ax.major_label_standoff = stand
        if lab:
            ax.axis_label = lab
            ax.axis_label_text_font = FONT
            ax.axis_label_text_font_size = FS
            ax.axis_label_text_font_style = "normal"
            ax.axis_label_text_color = "black"
            ax.axis_label_standoff = lstand
    return p


def dots(p, pts, color):
    xs = [a for a, _ in pts]
    ys = [b for _, b in pts]
    p.scatter(xs, ys, size=19.5, fill_color=color, line_color=None)


FRAME_W = 621
FRAME_H = 656

p1 = make((-0.44, 0.44), (0, 24500), ticks_bar_x, labels_bar_x, ticks_bar_y, labels_bar_y,
          160, 19, 33, 111, xlabel="classes")
p1.vbar(x=bar_x, width=bar_width[0], top=bar_top, bottom=0, fill_color="#1f77b4", line_color=None)

p2 = make((-0.037, 1.011), (-0.021, 1.031), ticks_unit, labels_unit, ticks_unit, labels_unit,
          122, 41, 33, 111, xlabel="x", ylabel="y")
for pts, c in ((xy_navy + xy_navy2 + xy_navy3, NAVY), (xy_blue + xy_blue2 + xy_blue3, BLUE),
               (xy_azure + xy_azure2 + xy_azure3, AZURE), (xy_sky + xy_sky2 + xy_sky3, SKY),
               (xy_cyan + xy_cyan2 + xy_cyan3, CYAN), (xy_spring + xy_spring2 + xy_spring3, SPRING),
               (xy_lime + xy_lime2 + xy_lime3, LIME), (xy_yg + xy_yg2 + xy_yg3, YG),
               (xy_yellow + xy_yellow2, YELLOW), (xy_amber + xy_amber2, AMBER),
               (xy_orange + xy_orange2, ORANGE), (xy_redor, REDOR), (xy_red, RED),
               (xy_over_navy, NAVY), (xy_over_azure, AZURE), (xy_over_cyan, CYAN)):
    dots(p2, pts, c)

p3 = make((-0.0102, 0.2138), (-0.0121, 0.2541), ticks_w, labels_w, ticks_h, labels_h,
          160, 19, 21, 107, xlabel="width", ylabel="height")
for pts, c in ((wh_navy + wh_navy2 + wh_navy3, NAVY), (wh_blue + wh_blue2 + wh_blue3, BLUE),
               (wh_azure + wh_azure2 + wh_azure3, AZURE), (wh_sky + wh_sky2 + wh_sky3, SKY),
               (wh_cyan + wh_cyan2, CYAN), (wh_spring + wh_spring2, SPRING),
               (wh_lime + wh_lime2, LIME), (wh_yg + wh_yg2, YG), (wh_yellow + wh_yellow2, YELLOW),
               (wh_amber + wh_amber2, AMBER), (wh_orange + wh_orange2, ORANGE), (wh_redor, REDOR),
               (wh_red, RED), (wh_dred, DRED), (wh_dark, DARK)):
    dots(p3, pts, c)

p4 = make((0, 1), (0, 1), ticks_unit, labels_unit, ticks_unit, labels_unit,
          122, 41, 21, 107)

grid = gridplot([[p1, p2], [p3, p4]], toolbar_location=None)
open("out.html", "w").write(file_html(grid, INLINE))
